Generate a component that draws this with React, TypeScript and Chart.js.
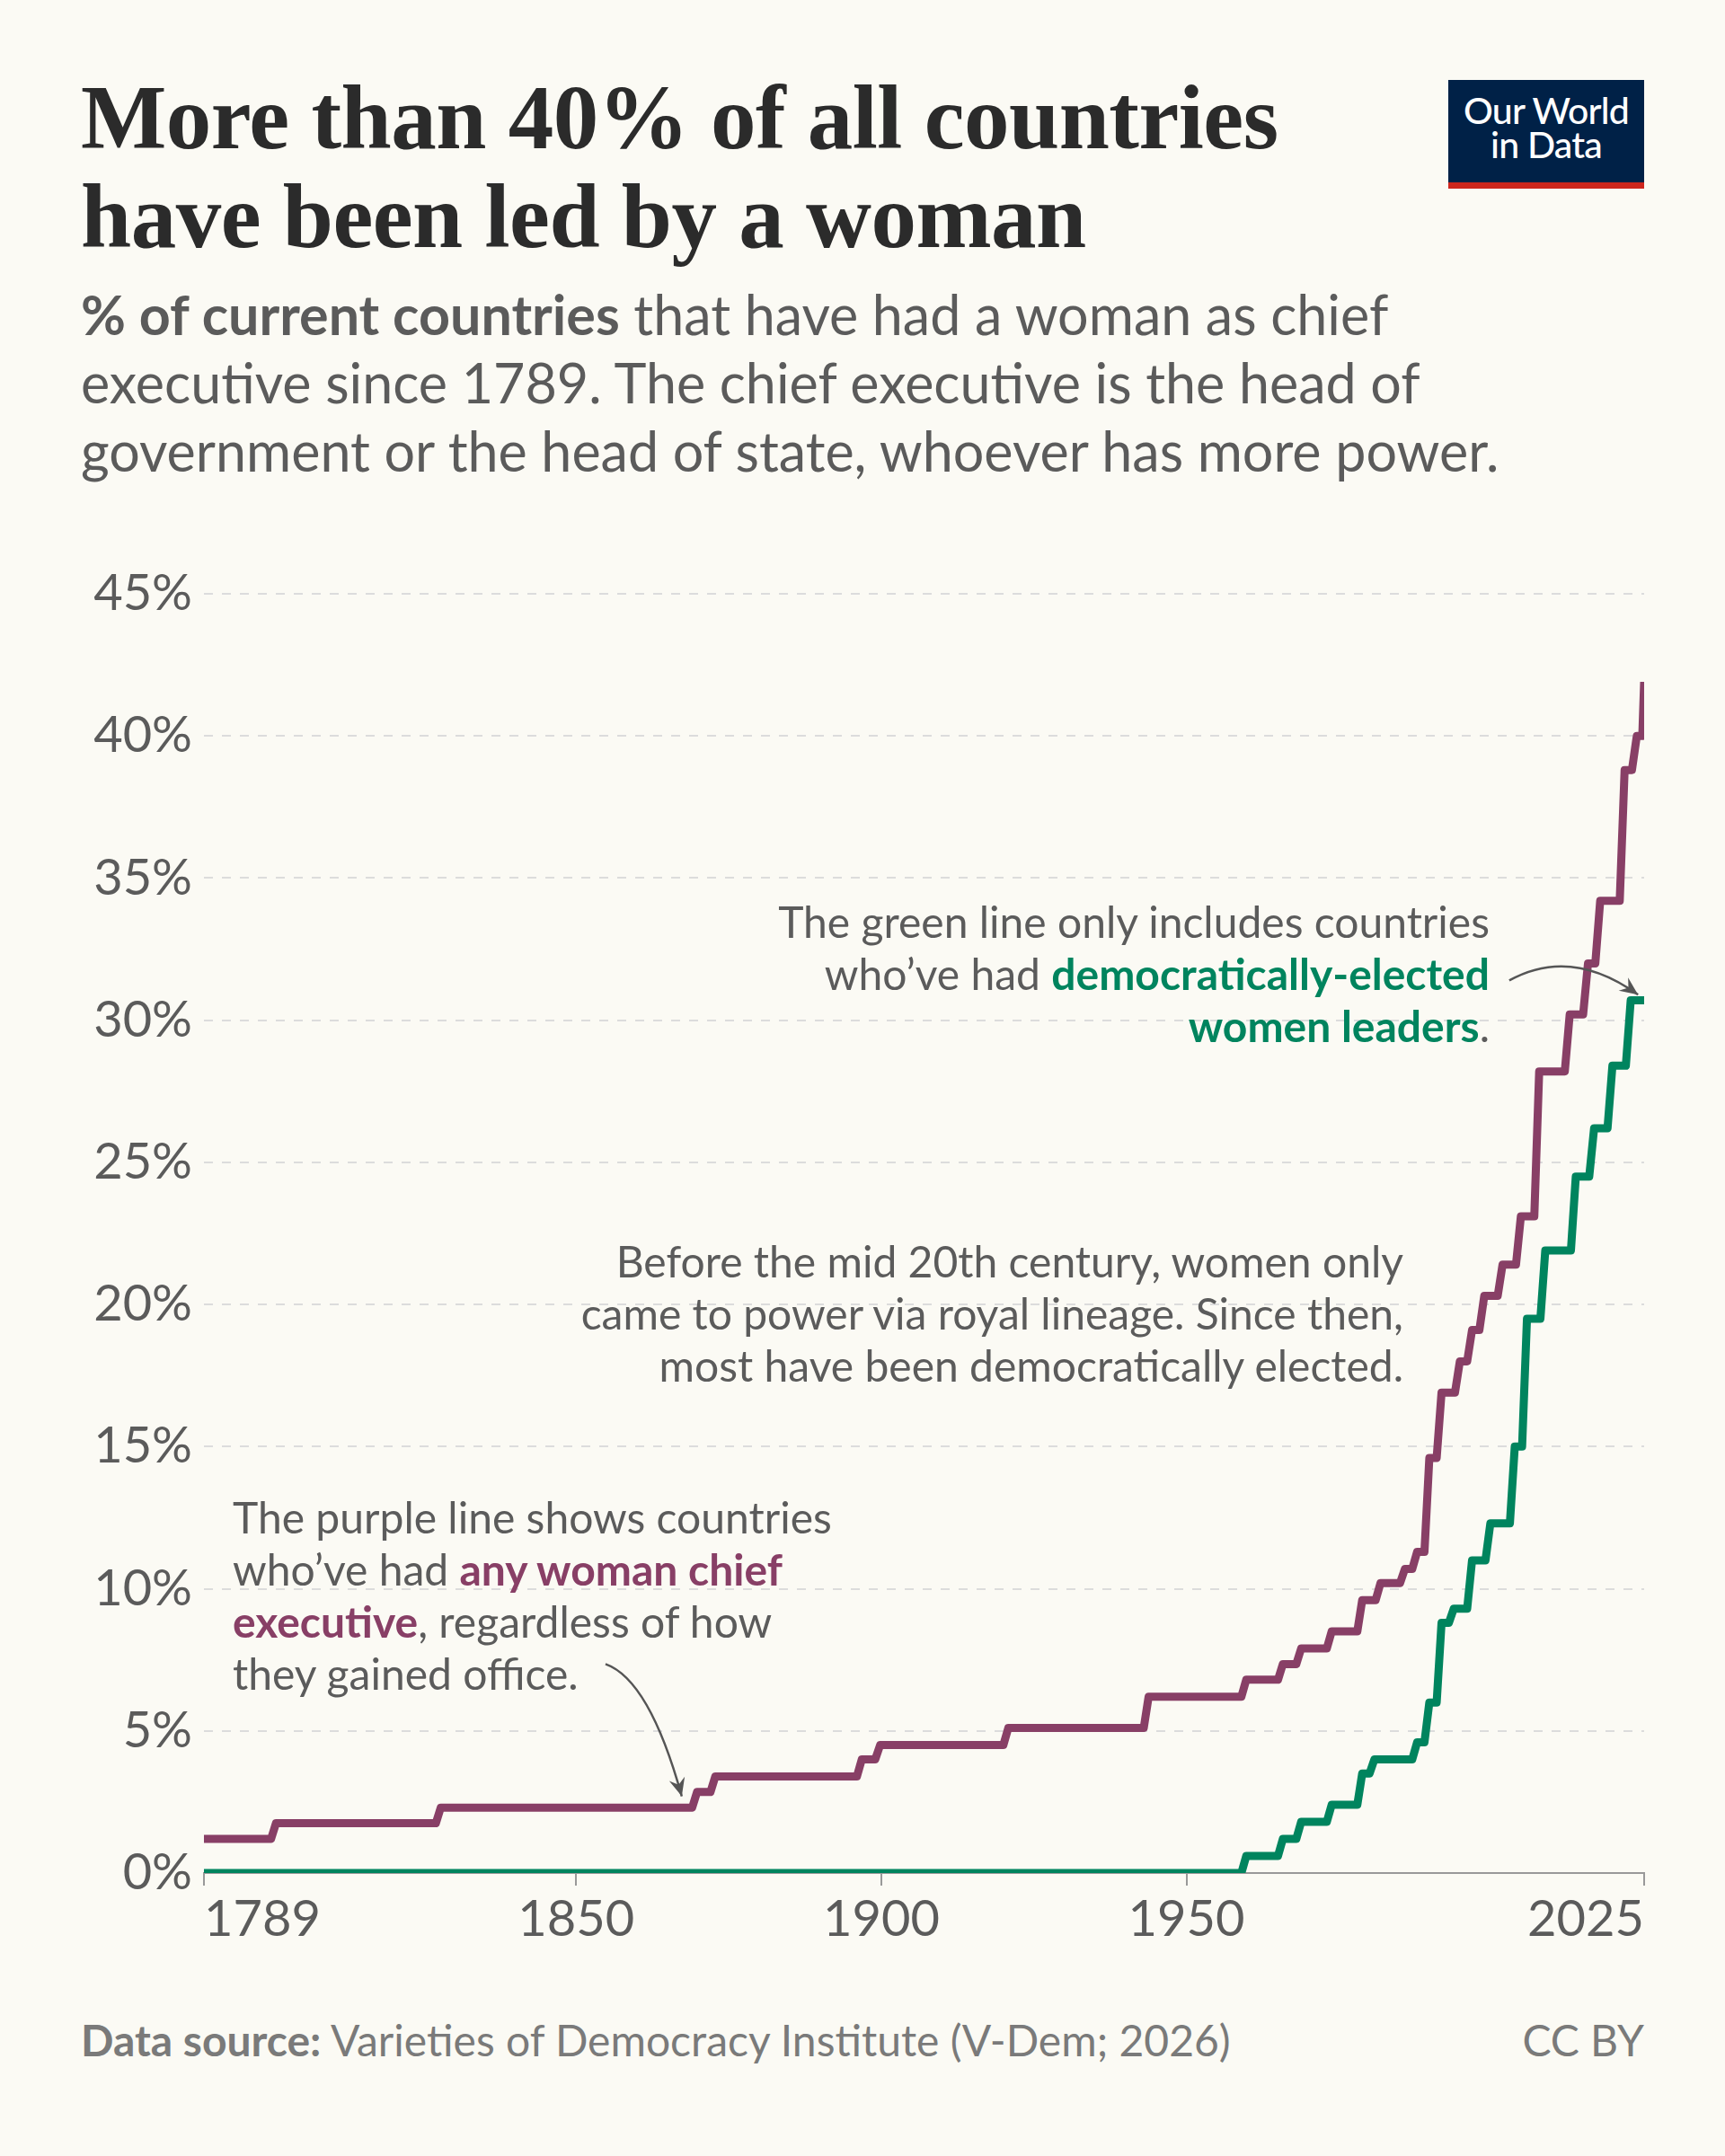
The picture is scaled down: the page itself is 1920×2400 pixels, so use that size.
import React, { useEffect, useRef } from "react";
import { Chart, registerables } from "chart.js";
Chart.register(...registerables);

const anyYears = [1789, 1800, 1827, 1869, 1872, 1896, 1899, 1920, 1943, 1959, 1965, 1968, 1973, 1978, 1981, 1985, 1987, 1989, 1991, 1994, 1996, 1998, 2001, 2004, 2007, 2012, 2015, 2017, 2021, 2023, 2025];
const anyValues = [1.2, 1.75, 2.3, 2.85, 3.4, 4.0, 4.5, 5.1, 6.2, 6.8, 7.35, 7.9, 8.5, 9.6, 10.2, 10.7, 11.3, 14.6, 16.9, 18.0, 19.1, 20.3, 21.4, 23.1, 28.2, 30.2, 32.0, 34.2, 38.8, 40.0, 41.9];
const demYears = [1789, 1959, 1965, 1968, 1973, 1978, 1980, 1987, 1989, 1991, 1993, 1996, 1999, 2003, 2005, 2008, 2013, 2016, 2019, 2022, 2025];
const demValues = [0, 0.6, 1.2, 1.8, 2.4, 3.5, 4.0, 4.6, 6.0, 8.8, 9.3, 11.0, 12.3, 15.0, 19.5, 21.9, 24.5, 26.2, 28.4, 30.7, 30.7];
const xTickYears = [1789, 1850, 1900, 1950, 2025];
const yTicks = [0, 5, 10, 15, 20, 25, 30, 35, 40, 45];

const PURPLE = "#883f66";
const GREEN = "#00845e";
const TEXT = "#5b5b5b";

// build step series with a short (one-year) ramp at each change
function steps(years: number[], values: number[]) {
  const pts: { x: number; y: number }[] = [{ x: years[0], y: values[0] }];
  for (let i = 1; i < years.length; i++) {
    if (values[i] === values[i - 1]) {
      pts.push({ x: years[i], y: values[i] });
      continue;
    }
    const end = Math.min(years[i] + 0.8, 2025);
    pts.push({ x: Math.min(years[i], end - 0.3), y: values[i - 1] });
    pts.push({ x: end, y: values[i] });
  }
  if (pts[pts.length - 1].x < 2025) pts.push({ x: 2025, y: values[values.length - 1] });
  return pts;
}

const arrows = [
  { from: [2002.9, 31.4], ctrl: [2013, 32.6], to: [2024, 30.9] },
  { from: [1854.8, 7.35], ctrl: [1862, 6.8], to: [1867.3, 2.7] },
];

const arrowPlugin = {
  id: "arrows",
  afterDatasetsDraw(chart: any) {
    const { ctx, scales } = chart;
    const X = (v: number) => scales.x.getPixelForValue(v);
    const Y = (v: number) => scales.y.getPixelForValue(v);
    ctx.save();
    ctx.strokeStyle = "#555";
    ctx.fillStyle = "#555";
    ctx.lineWidth = 2.5;
    for (const a of arrows) {
      const x0 = X(a.from[0]), y0 = Y(a.from[1]);
      const cx = X(a.ctrl[0]), cy = Y(a.ctrl[1]);
      const x1 = X(a.to[0]), y1 = Y(a.to[1]);
      ctx.beginPath();
      ctx.moveTo(x0, y0);
      ctx.quadraticCurveTo(cx, cy, x1, y1);
      ctx.stroke();
      const ang = Math.atan2(y1 - cy, x1 - cx);
      const L = 22, W = 0.42;
      ctx.beginPath();
      ctx.moveTo(x1, y1);
      ctx.lineTo(x1 - L * Math.cos(ang - W), y1 - L * Math.sin(ang - W));
      ctx.lineTo(x1 - L * 0.6 * Math.cos(ang), y1 - L * 0.6 * Math.sin(ang));
      ctx.lineTo(x1 - L * Math.cos(ang + W), y1 - L * Math.sin(ang + W));
      ctx.closePath();
      ctx.fill();
    }
    ctx.restore();
  },
};

function ChartBox() {
  const ref = useRef<HTMLCanvasElement>(null);
  useEffect(() => {
    const chart = new Chart(ref.current!, {
      type: "line",
      data: {
        datasets: [
          {
            data: steps(anyYears, anyValues),
            borderColor: PURPLE,
            borderWidth: 9,
            pointRadius: 0,
            borderJoinStyle: "round",
          },
          {
            data: steps(demYears, demValues),
            borderColor: GREEN,
            borderWidth: 9,
            pointRadius: 0,
            borderJoinStyle: "round",
          },
        ],
      },
      options: {
        animation: false,
        responsive: false,
        maintainAspectRatio: false,
        layout: { padding: { top: 61, right: 90, left: 0, bottom: 0 } },
        plugins: { legend: { display: false }, tooltip: { enabled: false } },
        scales: {
          x: {
            type: "linear",
            min: 1789,
            max: 2025,
            afterBuildTicks: (s: any) => {
              s.ticks = xTickYears.map((v) => ({ value: v }));
            },
            afterFit: (s: any) => {
              s.height = 100;
            },
            grid: { drawOnChartArea: false, drawTicks: true, tickLength: 14, color: "#999", lineWidth: 2 },
            border: { display: true, color: "#999", width: 2 },
            ticks: {
              align: "inner",
              color: TEXT,
              font: { family: "Lato", size: 56 },
              padding: 4,
              callback: (v: any) => String(v),
            },
          },
          y: {
            min: 0,
            max: 45,
            afterBuildTicks: (s: any) => {
              s.ticks = yTicks.map((v) => ({ value: v }));
            },
            afterFit: (s: any) => {
              s.width = 227;
            },
            grid: { drawTicks: false, color: "#dcdcdc", lineWidth: 2 },
            border: { display: false, dash: [10, 10] },
            ticks: {
              color: TEXT,
              font: { family: "Lato", size: 56 },
              padding: 13,
              callback: (v: any) => v + "%",
            },
          },
        },
      },
      plugins: [arrowPlugin],
    } as any);
    return () => chart.destroy();
  }, []);
  return (
    <canvas
      ref={ref}
      width={1920}
      height={1585}
      style={{ position: "absolute", left: 0, top: 600, width: 1920, height: 1585 }}
    />
  );
}

const ann: React.CSSProperties = {
  position: "absolute",
  fontFamily: "Lato",
  fontSize: 48,
  lineHeight: "58px",
  color: TEXT,
  whiteSpace: "nowrap",
};

export default function App() {
  return (
    <div
      style={{
        position: "absolute",
        left: 0,
        top: 0,
        width: 1920,
        height: 2400,
        background: "#fbfaf4",
        overflow: "hidden",
      }}
    >
      <div
        style={{
          position: "absolute",
          left: 90,
          top: 76,
          fontFamily: "Liberation Serif",
          fontWeight: 700,
          fontSize: 101,
          lineHeight: "110px",
          color: "#2b2b2b",
          letterSpacing: -0.5,
          whiteSpace: "nowrap",
        }}
      >
        More than 40% of all countries
        <br />
        have been led by a woman
      </div>
      <div
        style={{
          position: "absolute",
          left: 1612,
          top: 89,
          width: 218,
          height: 121,
          background: "#002147",
          borderBottom: "7px solid #ce261e",
          boxSizing: "border-box",
          color: "white",
          fontFamily: "Lato",
          fontWeight: 500,
          fontSize: 41,
          lineHeight: "38px",
          textAlign: "center",
          paddingTop: 15,
          letterSpacing: -0.8,
        }}
      >
        Our World
        <br />
        in Data
      </div>
      <div
        style={{
          position: "absolute",
          left: 90,
          top: 312,
          fontFamily: "Lato",
          fontSize: 61,
          lineHeight: "76px",
          color: "#5b5b5b",
          whiteSpace: "nowrap",
        }}
      >
        <b>% of current countries</b> that have had a woman as chief
        <br />
        executive since 1789. The chief executive is the head of
        <br />
        government or the head of state, whoever has more power.
      </div>

      <ChartBox />

      <div style={{ ...ann, right: 1920 - 1658, top: 997, textAlign: "right" }}>
        The green line only includes countries
        <br />
        who’ve had <b style={{ color: GREEN }}>democratically-elected</b>
        <br />
        <b style={{ color: GREEN }}>women leaders</b>.
      </div>
      <div style={{ ...ann, right: 1920 - 1562, top: 1375, textAlign: "right" }}>
        Before the mid 20th century, women only
        <br />
        came to power via royal lineage. Since then,
        <br />
        most have been democratically elected.
      </div>
      <div style={{ ...ann, left: 259, top: 1660 }}>
        The purple line shows countries
        <br />
        who’ve had <b style={{ color: PURPLE }}>any woman chief</b>
        <br />
        <b style={{ color: PURPLE }}>executive</b>, regardless of how
        <br />
        they gained office.
      </div>

      <div
        style={{
          position: "absolute",
          left: 90,
          top: 2242,
          fontFamily: "Lato",
          fontSize: 48,
          color: "#7a7a7a",
          whiteSpace: "nowrap",
        }}
      >
        <b>Data source:</b> Varieties of Democracy Institute (V-Dem; 2026)
      </div>
      <div
        style={{
          position: "absolute",
          right: 90,
          top: 2242,
          fontFamily: "Lato",
          fontSize: 48,
          color: "#7a7a7a",
        }}
      >
        CC BY
      </div>
    </div>
  );
}
